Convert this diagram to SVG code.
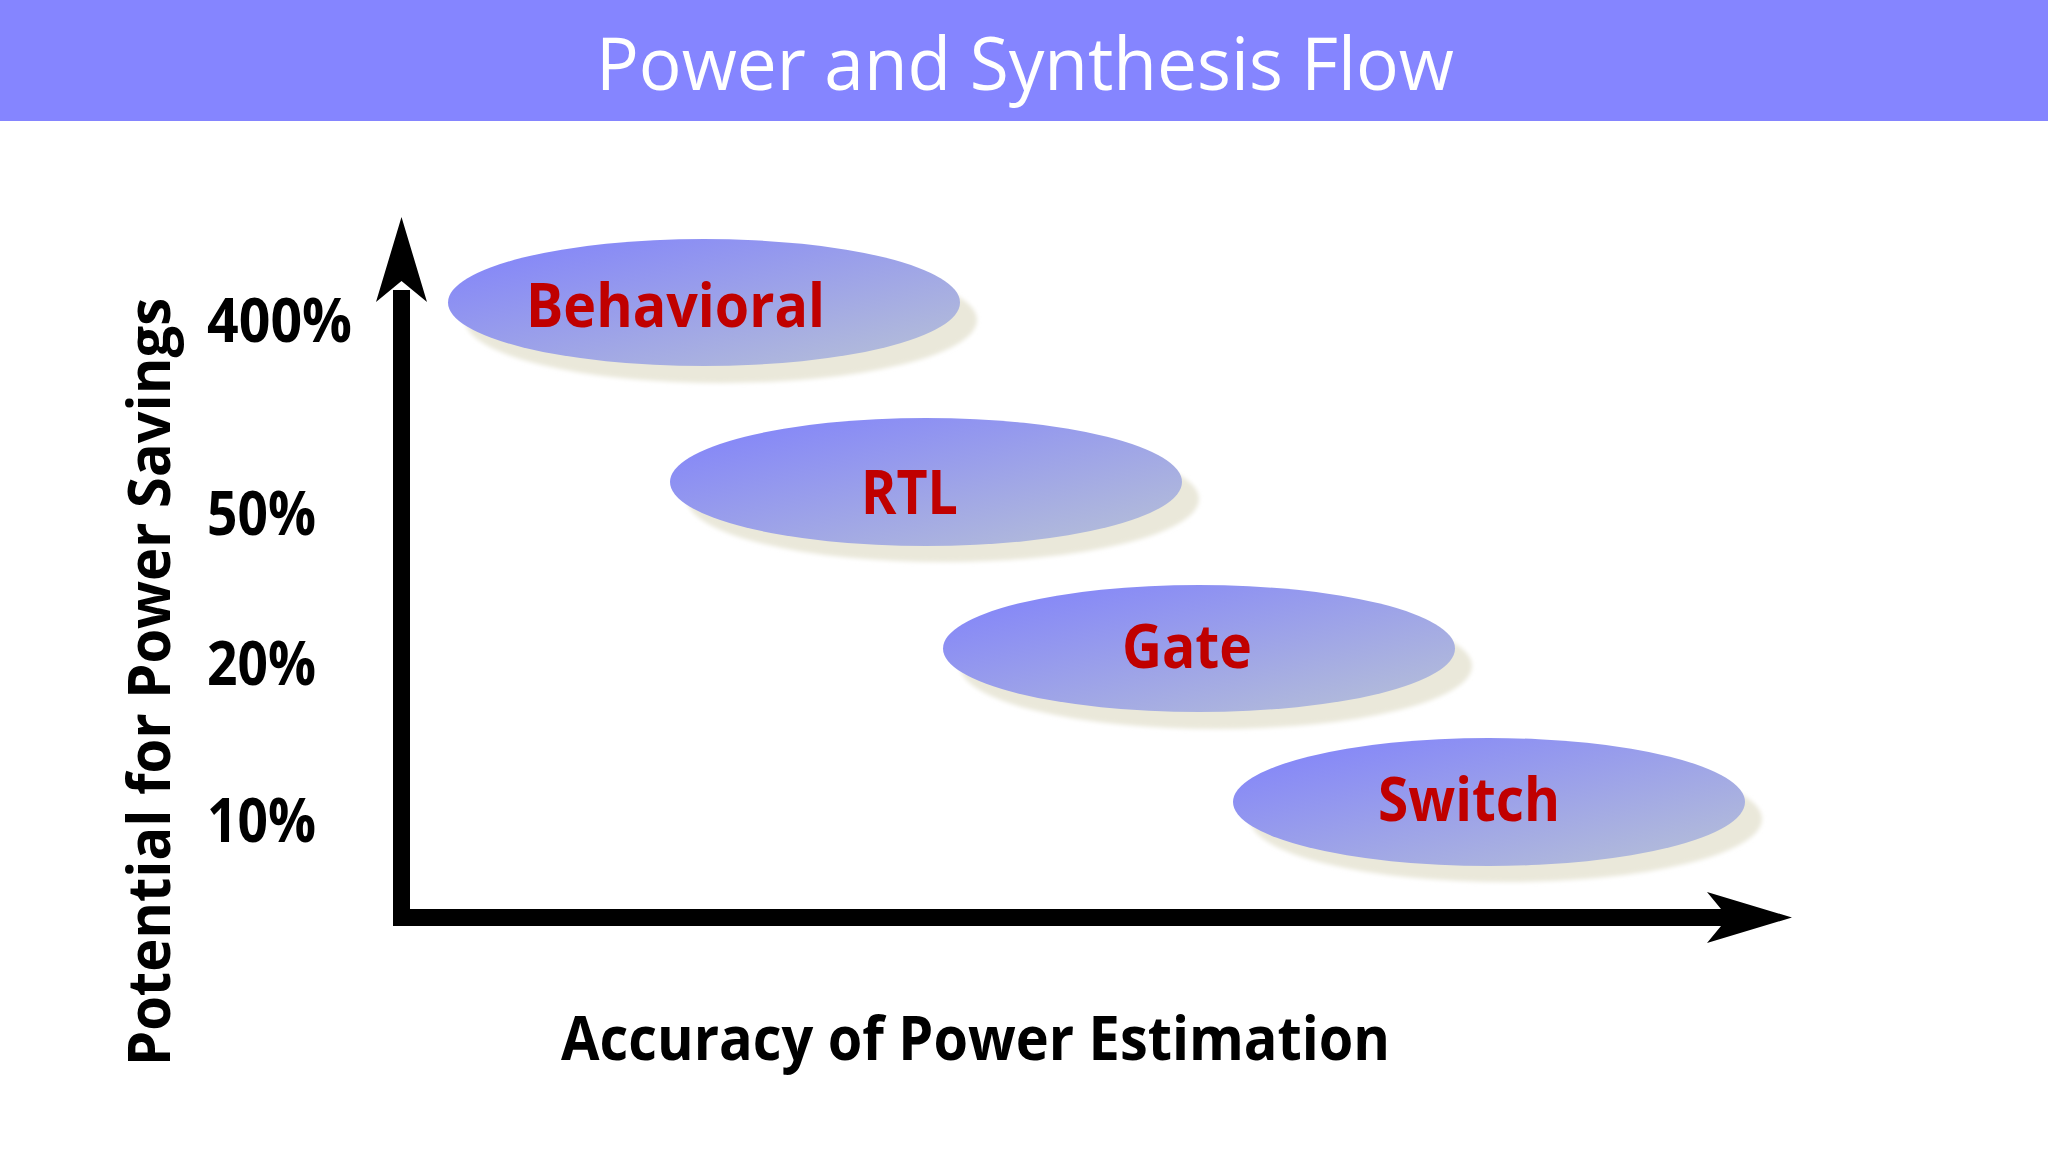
<svg xmlns="http://www.w3.org/2000/svg" width="2048" height="1151" viewBox="0 0 2048 1151">
<style>
.lbl{font-family:"Open Sans","Noto Sans","Liberation Sans",sans-serif;font-weight:bold;}
.node-text{font-family:"Open Sans","Noto Sans","Liberation Sans",sans-serif;font-weight:bold;font-size:60px;fill:#C00000;}
.pct{font-family:"Open Sans","Noto Sans","Liberation Sans",sans-serif;font-weight:bold;font-size:61px;fill:#000;}
.ell{fill:url(#g);}
.shadow{fill:#EAE8DA;filter:url(#blur);}
</style>
<defs>
<linearGradient id="g" x1="0" y1="0" x2="1" y2="1">
<stop offset="0" stop-color="#7F80FC"/>
<stop offset="1" stop-color="#B8C2D6"/>
</linearGradient>
<filter id="blur" x="-10%" y="-30%" width="120%" height="160%">
<feGaussianBlur stdDeviation="2"/>
</filter>
</defs>
<rect width="2048" height="1151" fill="#FFFFFF"/>
<rect x="0" y="0" width="2048" height="121" fill="#8585FF"/>
<text x="1025" y="90" text-anchor="middle" font-family="'Open Sans','Noto Sans','Liberation Sans',sans-serif" font-size="74" fill="#FFFFFF" textLength="858" lengthAdjust="spacingAndGlyphs">Power and Synthesis Flow</text>

<g id="connectors">
<path d="M393,290 L410,290 L410,909 L1730,909 L1730,926 L393,926 Z" fill="#000"/>
<polygon points="401.5,217 427,302 401.5,281 376,302" fill="#000"/>
<polygon points="1792,917.5 1707,892 1728,917.5 1707,943" fill="#000"/>
</g>

<g id="node-behavioral">
<ellipse class="shadow" cx="721" cy="320" rx="256" ry="63"/>
<ellipse class="ell" cx="704" cy="302.5" rx="256" ry="63.5"/>
<text class="node-text" x="526" y="327" textLength="299" lengthAdjust="spacingAndGlyphs">Behavioral</text>
</g>
<g id="node-rtl">
<ellipse class="shadow" cx="943" cy="499" rx="256" ry="63"/>
<ellipse class="ell" cx="926" cy="482" rx="256" ry="64"/>
<text class="node-text" x="861" y="514" textLength="97" lengthAdjust="spacingAndGlyphs">RTL</text>
</g>
<g id="node-gate">
<ellipse class="shadow" cx="1216" cy="666" rx="256" ry="63"/>
<ellipse class="ell" cx="1199" cy="648.5" rx="256" ry="63.5"/>
<text class="node-text" x="1122" y="668" textLength="130" lengthAdjust="spacingAndGlyphs">Gate</text>
</g>
<g id="node-switch">
<ellipse class="shadow" cx="1506" cy="819" rx="256" ry="63"/>
<ellipse class="ell" cx="1489" cy="802" rx="256" ry="64"/>
<text class="node-text" x="1378" y="821" textLength="182" lengthAdjust="spacingAndGlyphs">Switch</text>
</g>

<g id="axis-labels">
<text class="pct" x="207" y="342" textLength="145" lengthAdjust="spacingAndGlyphs">400%</text>
<text class="pct" x="207" y="535" textLength="109" lengthAdjust="spacingAndGlyphs">50%</text>
<text class="pct" x="207" y="685" textLength="109" lengthAdjust="spacingAndGlyphs">20%</text>
<text class="pct" x="207" y="842" textLength="109" lengthAdjust="spacingAndGlyphs">10%</text>
<text class="lbl" transform="translate(170,682) rotate(-90)" x="0" y="0" text-anchor="middle" font-size="59" textLength="768" lengthAdjust="spacingAndGlyphs">Potential for Power Savings</text>
<text class="lbl" x="561" y="1060" font-size="60" textLength="829" lengthAdjust="spacingAndGlyphs">Accuracy of Power Estimation</text>
</g>
</svg>
